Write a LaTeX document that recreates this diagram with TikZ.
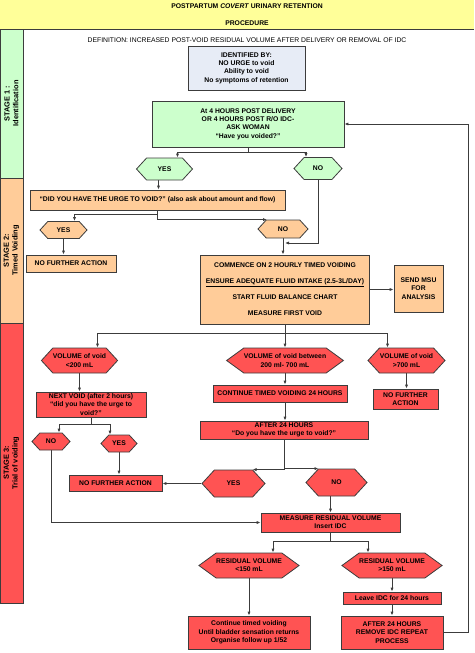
\documentclass[tikz,border=0pt]{standalone}
\usepackage{fontspec}
\setmainfont{Liberation Sans}
\usetikzlibrary{shapes.symbols,arrows.meta}
\pgfdeclarelayer{bg}
\pgfsetlayers{bg,main}
\definecolor{ttlyel}{HTML}{FFFF99}
\definecolor{grn}{HTML}{CCFFCC}
\definecolor{org}{HTML}{FFCC99}
\definecolor{rd}{HTML}{FF5353}
\definecolor{idblue}{HTML}{E7ECF6}
\definecolor{ln}{HTML}{3C3C3C}
\tikzset{
    every node/.style={inner sep=0pt, align=center, font=\fontsize{6.8}{8.3}\selectfont\bfseries}
}
\tikzset{box/.style={rectangle, draw=ln, line width=0.8pt}}
\tikzset{hexa/.style={shape=signal, signal to=east and west, signal pointer angle=95, draw=ln, line width=0.8pt}}
\tikzset{stage/.style={rectangle, draw=ln, line width=0.8pt, rotate=90, minimum height=23pt, font=\fontsize{7.4}{8.6}\selectfont\bfseries}}
\tikzset{arr/.style={draw=ln, line width=0.8pt, -{Latex[length=4pt,width=3.2pt]}}}

\begin{document}
\begin{tikzpicture}[x=1pt, y=-1pt]
        \useasboundingbox (0,0) rectangle (474,653);
        \fill[ttlyel] (0,0) rectangle (474,29);
        \draw[ln, line width=0.8pt] (0,29) -- (474,29);
        \node (ttl) at (247,14.5) {POSTPARTUM \textit{COVERT} URINARY RETENTION\\[8.7pt]PROCEDURE};
        \node (st1) [stage, fill=grn, minimum width=149pt] at (11.5,103.5) {STAGE 1 :\\Identification};
        \node (st2) [stage, fill=org, minimum width=145pt] at (11.5,250.5) {STAGE 2:\\Timed Voiding};
        \node (st3) [stage, fill=rd, minimum width=280pt] at (11.5,463) {STAGE 3:\\Trial of voiding};
        \node (dfn) [font=\fontsize{6.8}{8}\selectfont] at (247,40) {DEFINITION: INCREASED POST-VOID RESIDUAL VOLUME AFTER DELIVERY OR REMOVAL OF IDC};
        \node (idb) [box, fill=idblue, minimum width=117pt, minimum height=44pt] at (246.5,68) {IDENTIFIED BY:\\NO URGE to void\\Ability to void\\No symptoms of retention};
        \node (ask) [box, fill=grn, minimum width=192pt, minimum height=46pt] at (248,124) {At 4 HOURS POST DELIVERY\\OR 4 HOURS POST R/O IDC-\\ASK WOMAN\\“Have you voided?”};
        \node (yes1) [hexa, fill=grn, minimum width=56pt, minimum height=22pt] at (164.5,169) {YES};
        \node (no1) [hexa, fill=grn, minimum width=48pt, minimum height=22pt] at (318,168.5) {NO};
        \node (urge) [box, fill=org, minimum width=255pt, minimum height=20pt] at (157.5,200) {“DID YOU HAVE THE URGE TO VOID?” (also ask about amount and flow)};
        \node (yes2) [hexa, fill=org, minimum width=47pt, minimum height=17pt] at (63.5,230) {YES};
        \node (no2) [hexa, fill=org, minimum width=50pt, minimum height=18pt] at (283,229) {NO};
        \node (nfa1) [box, fill=org, minimum width=90pt, minimum height=17pt] at (71,263.5) {NO FURTHER ACTION};
        \node (com) [box, fill=org, minimum width=169pt, minimum height=69pt] at (285,289.5) {COMMENCE ON 2 HOURLY TIMED VOIDING\\[7.7pt]\underline{ENSURE ADEQUATE FLUID INTAKE (2.5-3L/DAY)}\\[7.7pt]START FLUID BALANCE CHART\\[7.7pt]MEASURE FIRST VOID};
        \node (msu) [box, fill=org, minimum width=49pt, minimum height=47pt] at (418.5,288.5) {SEND MSU\\FOR\\ANALYSIS};
        \node (v1) [hexa, fill=rd, minimum width=75pt, minimum height=25pt] at (79.5,360.5) {VOLUME of void\\<200 mL};
        \node (v2) [hexa, fill=rd, minimum width=116pt, minimum height=25pt, signal pointer angle=72] at (285,360.5) {VOLUME of void between\\200 ml- 700 mL};
        \node (v3) [hexa, fill=rd, minimum width=77pt, minimum height=25pt] at (406.5,360.5) {VOLUME of void\\>700 mL};
        \node (nv) [box, fill=rd, minimum width=110pt, minimum height=25pt] at (91,404.5) {NEXT VOID (after 2 hours)\\“did you have the urge to\\void?”};
        \node (ct) [box, fill=rd, minimum width=134pt, minimum height=17pt] at (280,393.5) {CONTINUE TIMED VOIDING 24 HOURS};
        \node (nfa3) [box, fill=rd, minimum width=65pt, minimum height=20pt] at (405.5,399) {NO FURTHER\\ACTION};
        \node (a24) [box, fill=rd, minimum width=168pt, minimum height=18pt] at (284,430) {AFTER 24 HOURS\\“Do you have the urge to void?”};
        \node (no3) [hexa, fill=rd, minimum width=38pt, minimum height=17pt] at (51,441.5) {NO};
        \node (yes3) [hexa, fill=rd, minimum width=36pt, minimum height=17pt] at (119,443.5) {YES};
        \node (nfa2) [box, fill=rd, minimum width=93pt, minimum height=16pt] at (115.5,483) {NO FURTHER ACTION};
        \node (yes4) [hexa, fill=rd, minimum width=63pt, minimum height=27pt] at (233.5,483.5) {YES};
        \node (no4) [hexa, fill=rd, minimum width=61pt, minimum height=27pt] at (336.5,482.5) {NO};
        \node (mr) [box, fill=rd, minimum width=139pt, minimum height=19pt] at (330.5,522.5) {MEASURE RESIDUAL VOLUME\\Insert IDC};
        \node (r1) [hexa, fill=rd, minimum width=98pt, minimum height=25pt, signal pointer angle=72] at (249,565.5) {RESIDUAL VOLUME\\<150 mL};
        \node (r2) [hexa, fill=rd, minimum width=98pt, minimum height=25pt, signal pointer angle=72] at (392,565.5) {RESIDUAL VOLUME\\>150 mL};
        \node (lv) [box, fill=rd, minimum width=98pt, minimum height=12pt] at (392,598) {Leave IDC for 24 hours};
        \node (f1) [box, fill=rd, minimum width=122pt, minimum height=33pt] at (249,632.5) {Continue timed voiding\\Until bladder sensation returns\\Organise follow up 1/52};
        \node (f2) [box, fill=rd, minimum width=102pt, minimum height=33pt] at (392,632.5) {AFTER 24 HOURS\\REMOVE IDC REPEAT\\PROCESS};
        \coordinate (j1) at (285,243);
        \begin{pgfonlayer}{bg}
                \draw[arr] (ask.south) -- ++(0,5) -| ([xshift=13pt]yes1.north);
                \draw[arr] (ask.south) -- ++(0,5) -| ([xshift=-12pt]no1.north);
                \draw[arr] ([xshift=-6pt]yes1.south) -- ([xshift=-6pt]yes1.south |- urge.north);
                \draw[arr] (urge.south) -- ++(0,4) -| ([xshift=11pt]yes2.north);
                \draw[arr] (urge.south) |- ([xshift=-16pt]no2.north);
                \draw[arr] (yes2.south) -- (yes2.south |- nfa1.north);
                \draw[arr] (no2.south) -- (no2.south |- com.north);
                \draw[arr] (no1.south) |- (j1);
                \draw[arr] (com.east) -- (com.east -| msu.west);
                \draw[arr] (com.south) -- (v2.north);
                \draw[arr] (com.south) -- ++(0,9) -| ([xshift=18pt]v1.north);
                \draw[arr] (com.south) -- ++(0,9) -| ([xshift=-19pt]v3.north);
                \draw[arr] (v1.south) -- (v1.south |- nv.north);
                \draw[arr] (v2.south) -- (v2.south |- ct.north);
                \draw[arr] (v3.south) -- (v3.south |- nfa3.north);
                \draw[arr] (v2.south |- ct.south) -- (v2.south |- a24.north);
                \draw[arr] (nv.south) -- ++(0,7) -| ([xshift=8pt]no3.north);
                \draw[arr] (nv.south) -- ++(0,7) -| ([xshift=-9pt]yes3.north);
                \draw[arr] (yes3.south) -- (yes3.south |- nfa2.north);
                \draw[arr] (a24.south) |- ([xshift=19pt]yes4.north);
                \draw[arr] (a24.south) |- ([xshift=-18pt]no4.north);
                \draw[arr] (yes4.west) -- (yes4.west -| nfa2.east);
                \draw[arr] (mr.north |- no4.south) -- (mr.north);
                \draw[arr] (no3.south) |- (mr.west);
                \draw[arr] (mr.south) -- ++(0,9) -| ([xshift=24pt]r1.north);
                \draw[arr] (mr.south) -- ++(0,9) -| ([xshift=-24pt]r2.north);
                \draw[arr] (r1.south) -- (f1.north);
                \draw[arr] (r2.south) -- (lv.north);
                \draw[arr] (lv.south) -- (f2.north);
                \draw[arr] (f2.east) -- ++(25,0) |- (ask.east);
        \end{pgfonlayer}
\end{tikzpicture}
\end{document}
